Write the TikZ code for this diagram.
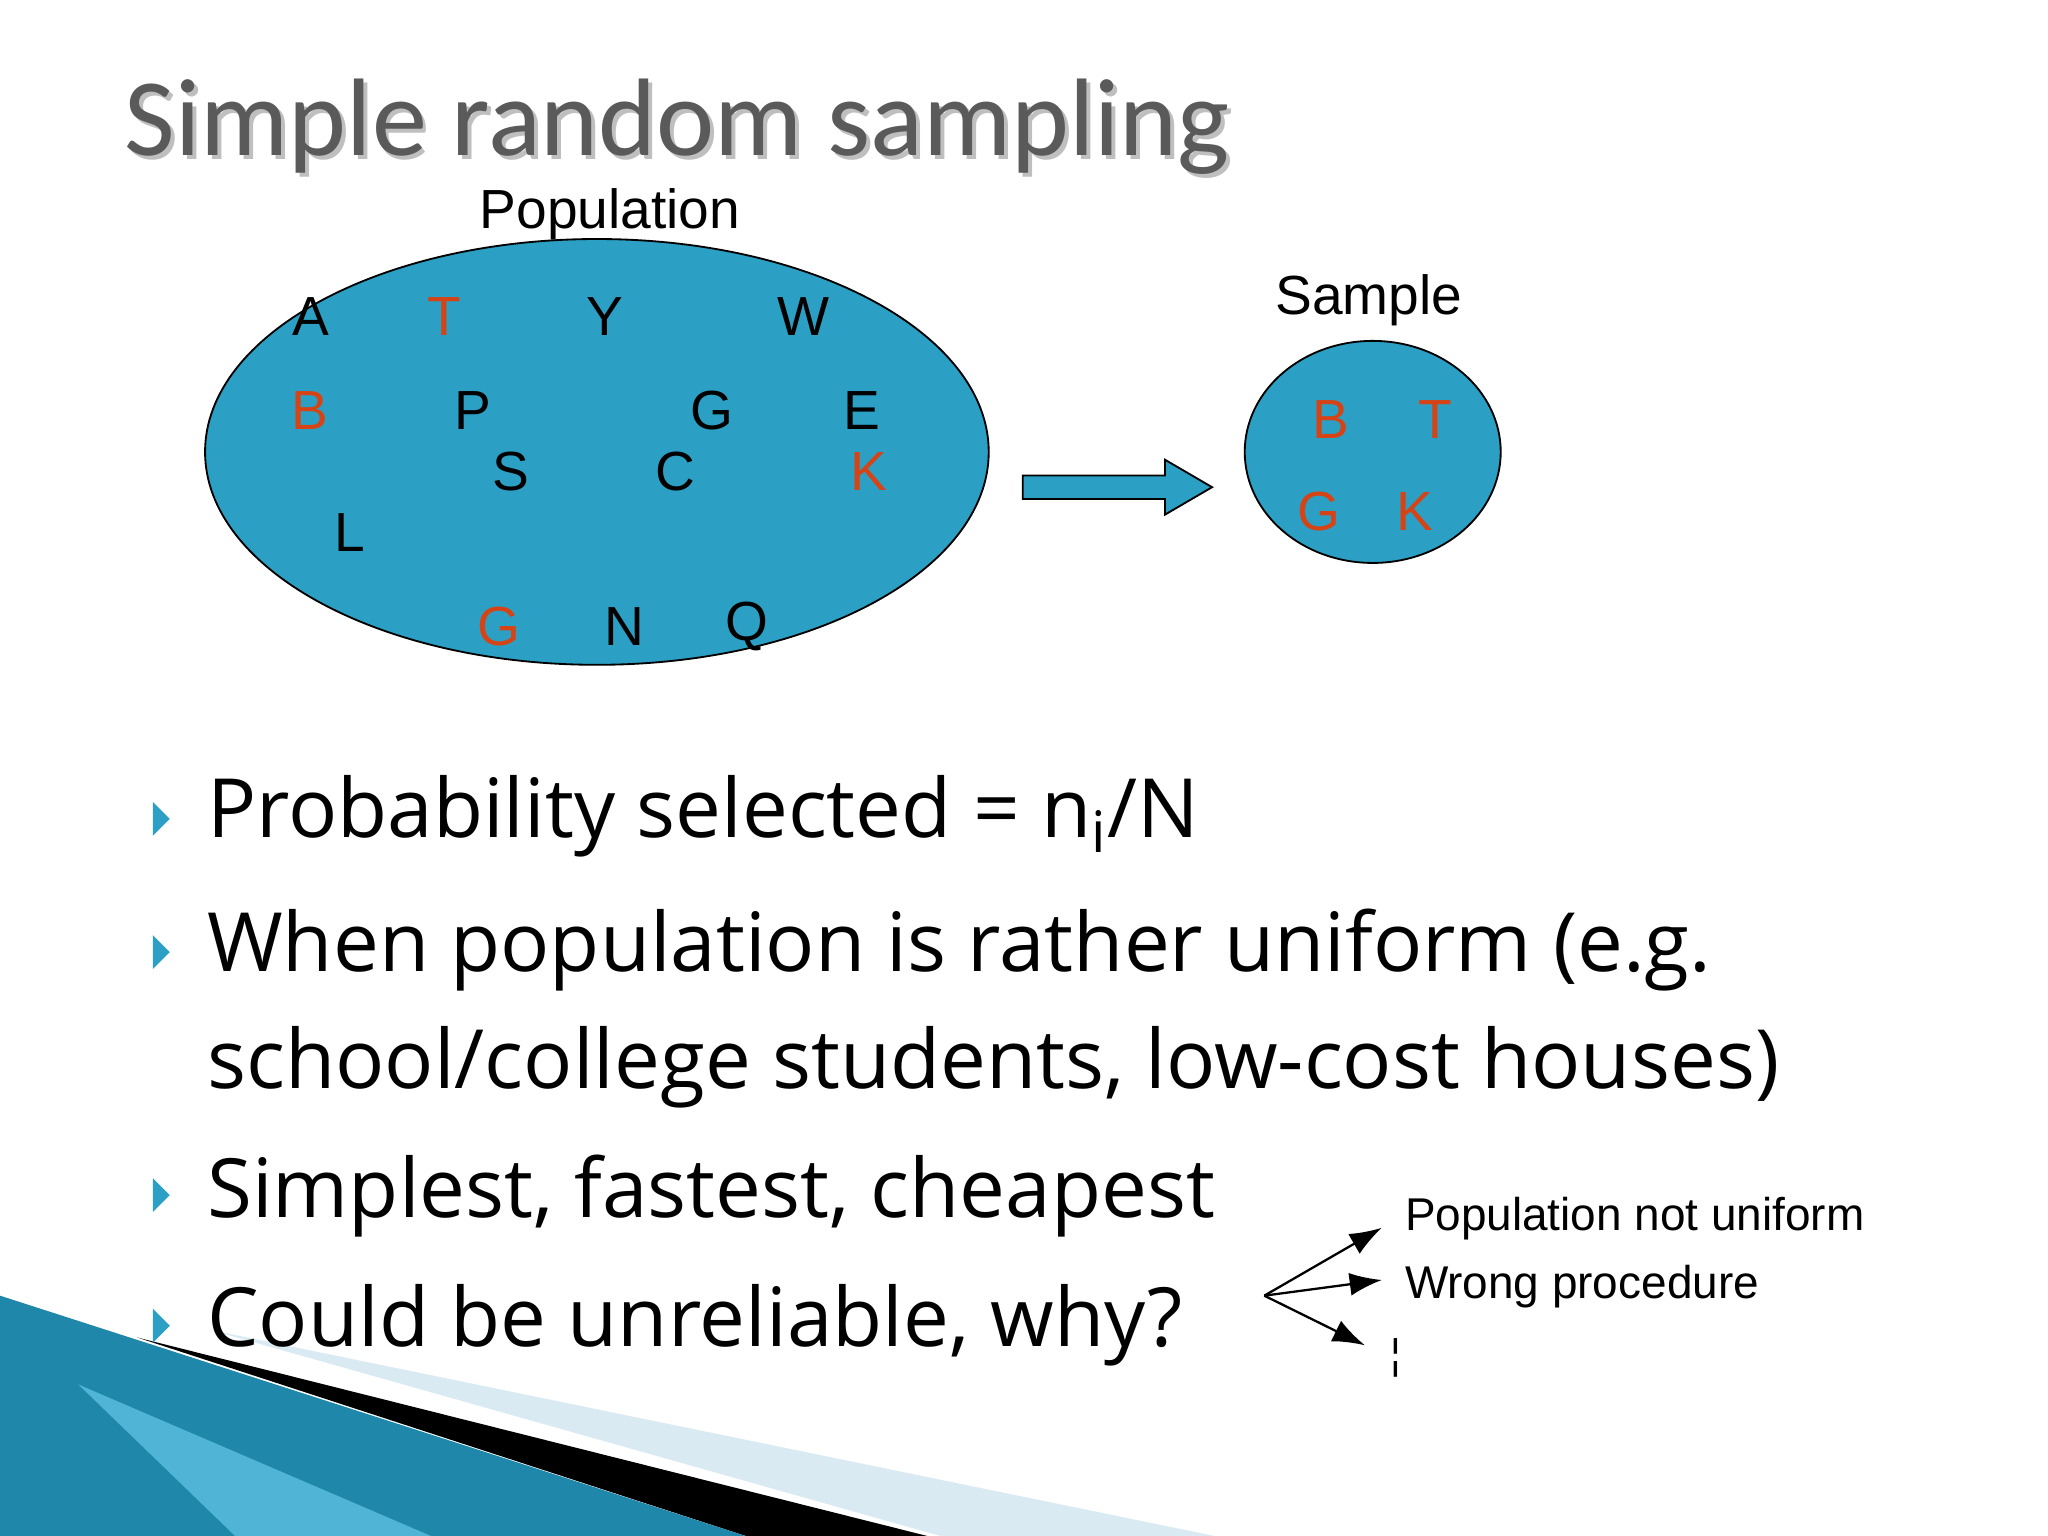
\documentclass[tikz,border=0pt]{standalone}
\usepackage{fontspec}
\setmainfont{Liberation Sans}
\newfontfamily\titlefont{Carlito}
\newfontfamily\bodyfont{Open Sans}
\usetikzlibrary{arrows.meta}
\definecolor{teal1}{RGB}{43,160,196}
\definecolor{teal2}{RGB}{30,135,170}
\definecolor{teal3}{RGB}{80,180,215}
\definecolor{lightb}{RGB}{218,234,242}
\definecolor{redl}{RGB}{214,68,22}
\definecolor{tgray}{RGB}{90,90,90}
\tikzset{
 lt/.style={font=\fontsize{12}{14}\selectfont,inner sep=0pt},
 rl/.style={lt,text=redl},
 bul/.style={font=\bodyfont\fontsize{17.8}{20}\selectfont,anchor=west,inner sep=0pt},
 sm/.style={font=\fontsize{10}{12}\selectfont,anchor=west,inner sep=0pt},
 ptr/.style={-{Latex[length=7pt,width=5pt]},line width=0.5pt}
}
\begin{document}
\begin{tikzpicture}[x=0.01cm,y=-0.01cm]
\useasboundingbox (0,0) rectangle (1568,1176);
% bottom-left decoration
\fill[lightb] (160,1018) -- (930,1176) -- (720,1176) -- cycle;
\fill[black] (105,1024) -- (710,1176) -- (571,1176) -- cycle;
\fill[teal2] (0,992) -- (571,1176) -- (0,1176) -- cycle;
\fill[teal3] (60,1060) -- (330,1176) -- (180,1176) -- cycle;
% title
\node[font=\titlefont\fontsize{24}{28}\selectfont,text=black!25,anchor=west,inner sep=0pt] at (98,100) {Simple random sampling};
\node[font=\titlefont\fontsize{24}{28}\selectfont,text=tgray,anchor=west,inner sep=0pt] (title) at (95,97) {Simple random sampling};
% population
\path[draw,fill=teal1] (457,346) ellipse [x radius=300, y radius=163];
\node[lt] (poplab) at (467,164) {Population};
\node[lt] (a) at (238,242) {A};
\node[rl] (t) at (340,242) {T};
\node[lt] (y) at (463,242) {Y};
\node[lt] (w) at (615,242) {W};
\node[rl] (b) at (237,314) {B};
\node[lt] (p) at (362,314) {P};
\node[lt] (g) at (545,314) {G};
\node[lt] (e) at (660,314) {E};
\node[lt] (s) at (391,361) {S};
\node[lt] (c) at (517,361) {C};
\node[rl] (k) at (665,361) {K};
\node[lt] (l) at (268,408) {L};
\node[rl] (g2) at (382,480) {G};
\node[lt] (n) at (478,480) {N};
\node[lt] (q) at (572,480) {Q};
% block arrow
\draw[fill=teal1] (783,364) -- (892,364) -- (892,352) -- (928,373) -- (892,394) -- (892,382) -- (783,382) -- cycle;
% sample
\path[draw,fill=teal1] (1051,346) ellipse [x radius=98, y radius=85];
\node[lt] (samlab) at (1048,230) {Sample};
\node[rl] (sb) at (1019,321) {B};
\node[rl] (st) at (1099,321) {T};
\node[rl] (sg) at (1010,392) {G};
\node[rl] (sk) at (1083,392) {K};
% bullets
\foreach \yy in {627,729,915,1015}{\fill[teal1] (117,\yy-13) -- (130,\yy) -- (117,\yy+13) -- cycle;}
\node[bul] (b1) at (158,625) {Probability selected = n\textsubscript{i}/N};
\node[bul] (b2) at (158,727) {When population is rather uniform (e.g.};
\node[bul] (b3) at (158,817) {school/college students, low-cost houses)};
\node[bul] (b4) at (158,916) {Simplest, fastest, cheapest};
\node[bul] (b5) at (158,1015) {Could be unreliable, why?};
% reasons
\coordinate (o) at (968,992);
\node[sm] (r1) at (1075,933) {Population not uniform};
\node[sm] (r2) at (1075,985) {Wrong procedure};
\node[sm,font=\fontsize{9}{10}\selectfont] (r3) at (1064,1040) {¦};
\draw[ptr] (o) -- (1058,940);
\draw[ptr] (o) -- (1058,980);
\draw[ptr] (o) -- (1045,1030);
\end{tikzpicture}
\end{document}
